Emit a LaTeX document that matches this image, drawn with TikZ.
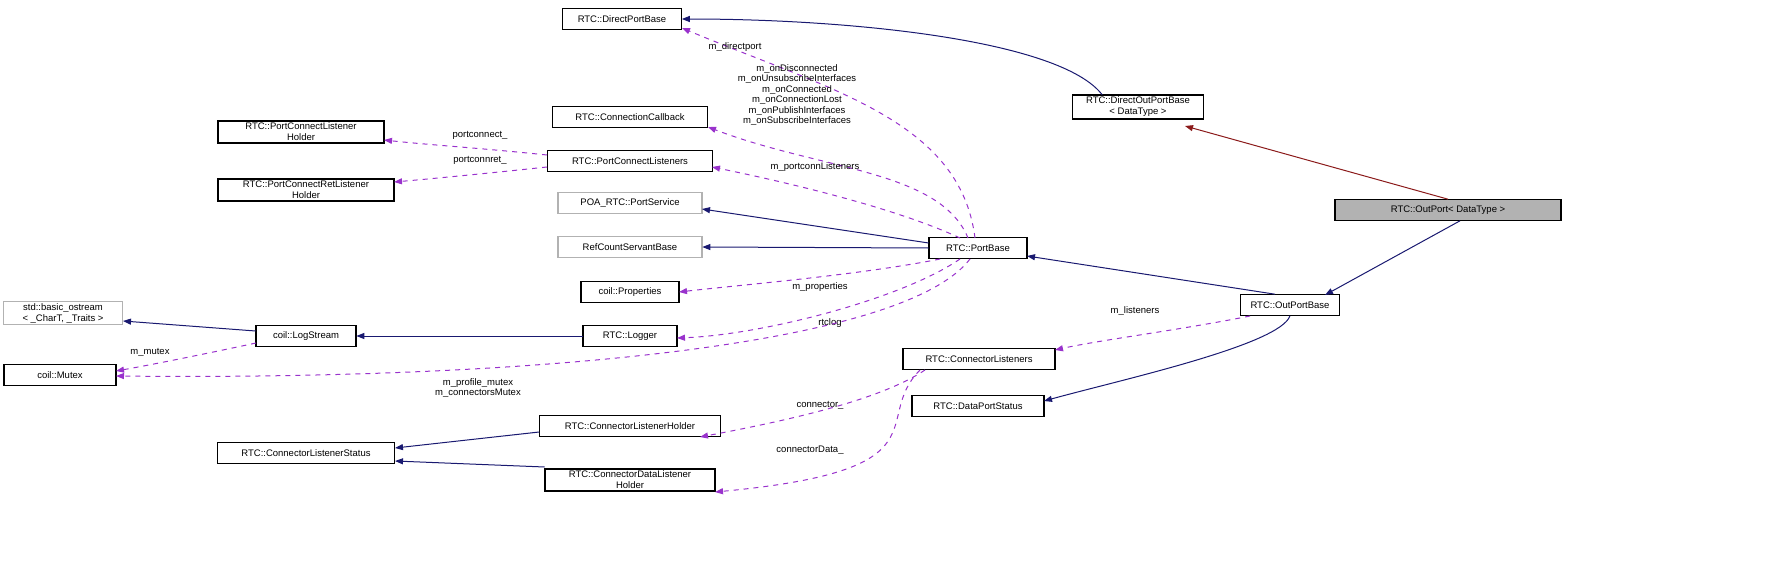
\documentclass[tikz,border=0pt]{standalone}
\usepackage{fontspec}
\setmainfont{Liberation Sans}
\usetikzlibrary{arrows.meta,positioning}
\definecolor{navy}{RGB}{25,25,112}
\definecolor{dred}{RGB}{139,26,26}
\definecolor{mpurple}{RGB}{153,50,204}
\begin{document}
\begin{tikzpicture}[x=0.5pt,y=-0.5pt,line width=0.5pt,
  every node/.style={scale=0.5},
  cls/.style={draw=black,fill=white,line width=0.6pt,inner sep=2pt,minimum height=21pt,align=center,
    font=\fontsize{9.5}{11}\selectfont},
  ext/.style={cls,draw=black!30},
  inh/.style={navy,-{Triangle[length=4pt,width=3pt]}},
  use/.style={mpurple,dashed,dash pattern=on 2.5pt off 2.5pt,-{Triangle[length=4pt,width=3pt]}},
  lbl/.style={font=\fontsize{9.5}{10.5}\selectfont,align=center,inner sep=1pt}]
\useasboundingbox (0,0) rectangle (1792,573);
% classes
\node[cls,minimum width=119pt] (dpb) at (622,19) {RTC::DirectPortBase};
\node[cls,minimum width=131pt] (dopb) at (1138,107) {RTC::DirectOutPortBase\\< DataType >};
\node[cls,fill=black!30,minimum width=226pt] (op) at (1448,210) {RTC::OutPort< DataType >};
\node[cls,minimum width=155pt] (cc) at (630,117) {RTC::ConnectionCallback};
\node[cls,minimum width=166pt] (pclh) at (301,132) {RTC::PortConnectListener\\Holder};
\node[cls,minimum width=165pt] (pcl) at (630,161) {RTC::PortConnectListeners};
\node[cls,minimum width=176pt] (pcrlh) at (306,190) {RTC::PortConnectRetListener\\Holder};
\node[ext,minimum width=144pt] (ps) at (630,203) {POA\_RTC::PortService};
\node[ext,minimum width=144pt] (rcsb) at (630,247) {RefCountServantBase};
\node[cls,minimum width=98pt] (pb) at (978,248) {RTC::PortBase};
\node[cls,minimum width=99pt] (opb) at (1290,305) {RTC::OutPortBase};
\node[cls,minimum width=98pt] (prop) at (630,292) {coil::Properties};
\node[ext,minimum width=119pt] (bos) at (63,313) {std::basic\_ostream\\< \_CharT, \_Traits >};
\node[cls,minimum width=100pt] (ls) at (306,336) {coil::LogStream};
\node[cls,minimum width=94pt] (lg) at (630,336) {RTC::Logger};
\node[cls,minimum width=112pt] (mtx) at (60,375) {coil::Mutex};
\node[cls,minimum width=152pt] (cls1) at (979,359) {RTC::ConnectorListeners};
\node[cls,minimum width=132pt] (dps) at (978,406) {RTC::DataPortStatus};
\node[cls,minimum width=177pt] (cst) at (306,453) {RTC::ConnectorListenerStatus};
\node[cls,minimum width=181pt] (clh) at (630,426) {RTC::ConnectorListenerHolder};
\node[cls,minimum width=170pt] (cdlh) at (630,480) {RTC::ConnectorDataListener\\Holder};
% inheritance
\draw[dred,-{Triangle[length=4pt,width=3pt]}] (op.north) -- (1185,126);
\draw[inh] (dopb.north west) ++(30,0) .. controls (1060,40) and (850,19) .. (dpb.east);
\draw[inh] (op.south) ++(12,0) -- (1325,295);
\draw[inh] (opb.north) ++(-15,0) -- (1027,256);
\draw[inh] (pb.west) ++(0,-5) -- (702,209);
\draw[inh] (pb.west) -- (rcsb.east);
\draw[inh] (opb.south) .. controls (1280,345) and (1120,380) .. (1044,401);
\draw[inh] (ls.west) ++(0,-5) -- (123,321);
\draw[inh] (lg.west) -- (ls.east);
\draw[inh] (clh.west) ++(0,6) -- (395,448);
\draw[inh] (cdlh.west) ++(0,-13) -- (395,461);
% usage
\draw[use] (975,238) .. controls (960,120) and (830,90) .. (682,28);
\node[lbl] at (735,47) {m\_directport};
\draw[use] (968,238) .. controls (940,170) and (820,170) .. (708,127);
\node[lbl] at (797,95) {m\_onDisconnected\\m\_onUnsubscribeInterfaces\\m\_onConnected\\m\_onConnectionLost\\m\_onPublishInterfaces\\m\_onSubscribeInterfaces};
\draw[use] (960,238) .. controls (900,210) and (800,185) .. (712,167);
\node[lbl] at (815,167) {m\_portconnListeners};
\draw[use] (547,155) .. controls (480,148) and (430,145) .. (384,140);
\node[lbl] at (480,135) {portconnect\_};
\draw[use] (547,167) .. controls (500,172) and (440,178) .. (394,182);
\node[lbl] at (480,160) {portconnret\_};
\draw[use] (940,259) .. controls (860,275) and (740,285) .. (679,292);
\node[lbl] at (820,287) {m\_properties};
\draw[use] (960,259) .. controls (900,300) and (760,335) .. (677,338);
\node[lbl] at (830,323) {rtclog};
\draw[use] (970,259) .. controls (900,350) and (500,380) .. (116,376);
\node[lbl] at (478,388) {m\_profile\_mutex\\m\_connectorsMutex};
\draw[use] (256,343) .. controls (200,355) and (150,365) .. (116,371);
\node[lbl] at (150,352) {m\_mutex};
\draw[use] (1250,316) .. controls (1180,330) and (1100,340) .. (1055,350);
\node[lbl] at (1135,311) {m\_listeners};
\draw[use] (925,370) .. controls (880,400) and (790,420) .. (700,437);
\node[lbl] at (820,405) {connector\_};
\draw[use] (920,370) .. controls (870,420) and (950,470) .. (715,492);
\node[lbl] at (810,450) {connectorData\_};
\end{tikzpicture}
\end{document}
